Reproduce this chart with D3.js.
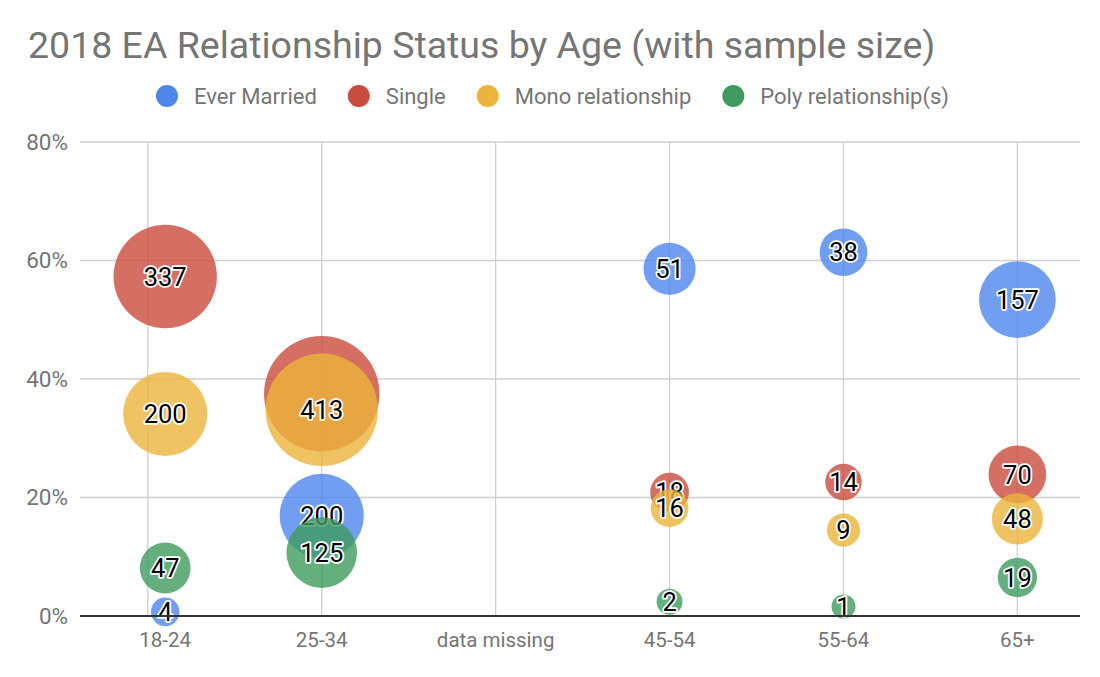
<!DOCTYPE html>
<html>
<head>
<meta charset="utf-8">
<script src="https://cdn.jsdelivr.net/npm/d3@7"></script>
<style>
  body { margin: 0; background: #fff; }
  text { font-family: Roboto, "Noto Sans", sans-serif; }
</style>
</head>
<body>
<div id="chart"></div>
<script>
// age groups, and where each sits on the numeric x axis (18-24 is nudged off its gridline in the original)
var ageGroups = ["18-24", "25-34", "data missing", "45-54", "55-64", "65+"];
var ageX = [1.1, 2, 3, 4, 5, 6];

var seriesNames = ["Ever Married", "Single", "Mono relationship", "Poly relationship(s)"];
var seriesColors = ["#4e86ec", "#cb4b3d", "#ecb43b", "#3f9a5e"];

// percent of each age group, null where there is no data
var everMarriedPct = [0.7, 16.9, null, 58.6, 61.4, 53.4];
var singlePct      = [57.3, 37.5, null, 20.9, 22.6, 23.9];
var monoPct        = [34.1, 34.8, null, 18.2, 14.5, 16.4];
var polyPct        = [8.1, 10.7, null, 2.4, 1.6, 6.5];

// sample sizes (bubble size + label)
var everMarriedN = [4, 200, null, 51, 38, 157];
var singleN      = [337, 440, null, 18, 14, 70];
var monoN        = [200, 413, null, 16, 9, 48];
var polyN        = [47, 125, null, 2, 1, 19];

// label not shown in the original (covered by the mono bubble)
var hiddenLabels = ["Single|25-34"];

var yTicks = [0, 20, 40, 60, 80];

var width = 1100, height = 677;
var margin = {top: 142, right: 20, bottom: 61, left: 80};

var pcts = [everMarriedPct, singlePct, monoPct, polyPct];
var sizes = [everMarriedN, singleN, monoN, polyN];

var points = [];
seriesNames.forEach(function(name, s) {
  ageGroups.forEach(function(g, i) {
    if (pcts[s][i] == null) return;
    points.push({series: s, name: name, group: g, x: ageX[i], y: pcts[s][i], n: sizes[s][i]});
  });
});

var svg = d3.select("#chart").append("svg")
    .attr("width", width)
    .attr("height", height);

var x = d3.scaleLinear().domain([0.61, 6.36]).range([margin.left, width - margin.right]);
var y = d3.scaleLinear().domain([0, 80]).range([height - margin.bottom, margin.top]);
var r = d3.scaleSqrt().domain([1, d3.max(points, function(d) { return d.n; })]).range([12, 57.7]);

// title
svg.append("text")
    .attr("x", 28)
    .attr("y", 58)
    .attr("fill", "#757575")
    .style("font-size", "37.5px")
    .text("2018 EA Relationship Status by Age (with sample size)");

// legend, centred like the original
var legend = svg.append("g").attr("class", "legend");
var lx = 0;
seriesNames.forEach(function(name, i) {
  var item = legend.append("g").attr("transform", "translate(" + lx + ",0)");
  item.append("circle")
      .attr("cx", 11).attr("cy", 0).attr("r", 11)
      .attr("fill", seriesColors[i]);
  var t = item.append("text")
      .attr("x", 38).attr("y", 0).attr("dy", "0.35em")
      .attr("fill", "#757575")
      .style("font-size", "22px")
      .text(name);
  lx += 38 + t.node().getComputedTextLength() + 31;
});
lx -= 31;
legend.attr("transform", "translate(" + (154 + (951 - 154 - lx) / 2) + ",96)");

// horizontal gridlines + y labels
var grid = svg.append("g");
grid.selectAll(".hgrid")
    .data(yTicks.filter(function(d) { return d > 0; }))
  .enter().append("line")
    .attr("class", "hgrid")
    .attr("x1", margin.left).attr("x2", width - margin.right)
    .attr("y1", function(d) { return y(d); }).attr("y2", function(d) { return y(d); })
    .attr("stroke", "#cfcfcf").attr("stroke-width", 1.3);

svg.selectAll(".ylab")
    .data(yTicks)
  .enter().append("text")
    .attr("class", "ylab")
    .attr("x", 68)
    .attr("y", function(d) { return y(d); })
    .attr("dy", "0.35em")
    .attr("text-anchor", "end")
    .attr("fill", "#757575")
    .style("font-size", "22.5px")
    .text(function(d) { return d + "%"; });

// vertical gridlines at integer positions
grid.selectAll(".vgrid")
    .data(d3.range(1, 7))
  .enter().append("line")
    .attr("class", "vgrid")
    .attr("x1", function(d) { return x(d); }).attr("x2", function(d) { return x(d); })
    .attr("y1", y(80)).attr("y2", y(0))
    .attr("stroke", "#cfcfcf").attr("stroke-width", 1.3);

// x labels
svg.selectAll(".xlab")
    .data(ageGroups)
  .enter().append("text")
    .attr("class", "xlab")
    .attr("x", function(d, i) { return x(ageX[i]); })
    .attr("y", 647)
    .attr("text-anchor", "middle")
    .attr("fill", "#757575")
    .style("font-size", "20.5px")
    .text(function(d) { return d; });

// bubbles, drawn series by series with their labels
var bubbles = svg.append("g");
points.forEach(function(d) {
  bubbles.append("circle")
      .attr("cx", x(d.x))
      .attr("cy", y(d.y))
      .attr("r", r(d.n))
      .attr("fill", seriesColors[d.series])
      .attr("fill-opacity", 0.8);
  if (hiddenLabels.indexOf(d.name.split(" ")[0] + "|" + d.group) >= 0) return;
  bubbles.append("text")
      .attr("x", x(d.x))
      .attr("y", y(d.y))
      .attr("dy", "0.36em")
      .attr("text-anchor", "middle")
      .attr("fill", "#000")
      .attr("stroke", "#fff")
      .attr("stroke-width", 3.5)
      .attr("stroke-linejoin", "round")
      .attr("paint-order", "stroke")
      .style("font-size", "25.5px")
      .text(d.n);
});

// baseline
svg.append("line")
    .attr("x1", margin.left).attr("x2", width - margin.right)
    .attr("y1", y(0)).attr("y2", y(0))
    .attr("stroke", "#333").attr("stroke-width", 2);
</script>
</body>
</html>
